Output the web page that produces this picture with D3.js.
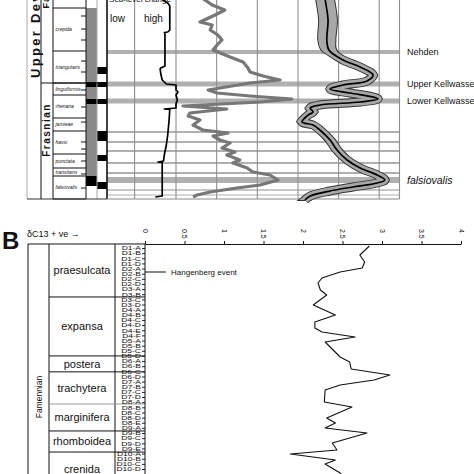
<!DOCTYPE html>
<html><head><meta charset="utf-8">
<script src="https://cdn.jsdelivr.net/npm/d3@7"></script>
<style>body{margin:0;background:#fff}svg{display:block}text{font-family:"Liberation Sans",Arial,sans-serif;fill:#111}</style>
</head><body><svg id="c" width="474" height="474"></svg>
<script>
// ---------------- Panel A data (depth in arbitrary section units) ----------------
const zonesA = ["crepida","triangularis","linguiformis","rhenana","jamieae","hassi","punctata","transitans","falsiovalis"];
const zoneTopsA = [8, 51, 83, 95, 118, 131, 154, 168, 176];
const zoneBaseA = 199;
const frasnianTop = 83;
const zoneTicksA = [16,29,40,61,72,90,107,122,142,149,161,174,188];
const grayColTop = 8, grayColBase = 176;
const blockTop  = [67, 82, 99, 131, 155, 176, 182];
const blockBase = [74, 87, 104, 141, 161, 186, 189];
const blockCol  = ["r","both","both","r","r","l","r"];
const bandTop  = [50, 81.5, 98.5, 131, 141, 150, 162, 172, 177, 189.3, 194.5];
const bandBase = [54, 86.5, 103.5, 133, 143, 152, 164, 174, 183, 190.7, 195.5];
const eventNames = ["Nehden","Upper Kellwasser","Lower Kellwasser"];
const eventDepths = [52, 84, 101];
const falsiovalisDepth = 180;

// relative sea level (0 = low, 10 = high)
const seaDepth = [-5,0,3,6,30,32,32.5,33,66,68,69,74,80,84,85,90,92,95,100,104,108,109,109.5,120,135,145,155,161,162,162.5,196,197];
const seaLevel = [8.1,8.1,8.8,9.1,9.1,8.8,8.3,8.4,8.4,7.8,7.7,7.8,8.0,8.6,10.0,10.0,10.3,10.0,10.2,10.0,10.0,8.3,9.1,9.0,8.8,8.6,8.3,8.2,7.4,8.0,8.0,7.0];

// gray curve (track 2)
const grayDepth = [-3,0,5,10,15,22,25,30,35,40,45,50,57,62,68,72,76,80,83,90,93,96,99,102,106,109,113,116,120,125,130,133,136,140,143,148,152,155,160,163,168,172,175,180,185,188,192,195,197];
const grayValue = [0.6,0.71,0.89,1.20,0.96,0.59,0.89,0.84,1.03,1.13,1.01,0.91,1.33,1.65,1.77,1.82,2.14,2.56,1.82,0.79,1.01,1.82,2.85,2.07,0.17,1.25,0.34,0.30,0.59,0.42,0.66,1.28,0.91,1.08,1.33,1.13,1.45,1.25,1.57,1.40,1.75,1.89,2.31,2.51,2.07,1.50,0.84,0.52,0.42];

// smoothed curve with envelope (track 3)
const envDepth = [-3,0,20,40,50,60,67,75,81,85,89,93,97,99,102,105,108,112,115,122,125,130,140,150,160,168,175,180,183,187,191,196,200];
const envValue = [0.66,0.67,0.74,0.71,0.76,1.11,1.53,1.85,1.70,1.11,0.79,1.28,1.85,1.97,1.53,0.54,0.30,0.37,0.25,0.10,0.37,0.54,0.79,0.96,1.21,1.53,1.95,2.14,1.95,1.35,0.79,0.30,0.17];
const envErr   = [0.22,0.22,0.22,0.21,0.18,0.12,0.1,0.1,0.1,0.1,0.1,0.1,0.1,0.1,0.1,0.1,0.12,0.12,0.12,0.12,0.12,0.12,0.12,0.12,0.12,0.12,0.1,0.1,0.1,0.1,0.1,0.12,0.14];

// ---------------- Panel B data ----------------
const samples = ["D1-A","D1-B","D1-C","D1-D","D2-A","D2-B","D2-C","D2-D","D3-A","D3-B","D3-C","D3-D","D4-A","D4-B","D4-C","D4-D","D4-E","D4-F","D5-A","D5-B","D5-C","D5-D","D6-A","D6-B","D6-C","D6-D","D7-A","D7-B","D7-C","D7-D","D8-A","D8-B","D8-C","D8-D","D8-E","D9-A","D9-B","D9-C","D9-D","D9-E","D10-A","D10-B","D10-C","D10-D"];
const zonesB = ["praesulcata","expansa","postera","trachytera","marginifera","rhomboidea","crenida"];
const zoneTopsB = [-0.78, 9.53, 21.0, 24.1, 30.35, 35.6, 39.7];
const zoneBaseB = 46.3;
const stageLabelPosB = 29;
const xTicksB = [0,0.5,1,1.5,2,2.5,3,3.5,4];
const hangenbergPos = 4.67;
const d13cPos   = [-0.39,1.36,2.72,3.89,4.67,5.84,6.81,8.17,9.14,11.09,13.04,14.40,15.56,16.34,17.32,18.29,21.21,22.18,23.54,24.71,25.68,26.65,27.63,29.96,30.93,33.07,34.05,35.02,35.99,37.94,39.30,40.08,41.25,42.02,43.77,45.1];
const d13cValue = [2.84,2.72,2.78,2.75,2.47,2.24,2.19,2.22,2.30,2.13,2.41,2.15,2.15,2.24,2.66,2.28,2.47,2.59,2.61,3.10,2.90,2.47,2.28,2.27,2.62,2.30,2.41,2.28,2.81,2.37,2.43,1.84,2.41,2.28,2.47,2.53];

// ================= drawing =================
const svg = d3.select("#c");

// ---- Panel A ----
const yA = d3.scaleLinear().domain([0,200]).range([0,200]);
const xSea = d3.scaleLinear().domain([0,10]).range([107,176]);
const xG = d3.scaleLinear().domain([0,3]).range([176,298]);
const xE = d3.scaleLinear().domain([0,2.5]).range([298,399.5]);
const A = svg.append("g");

// horizontal event bands
A.selectAll("rect.band").data(bandTop).join("rect").attr("class","band")
  .attr("x",xSea(0)).attr("width",xE(2.5)-xSea(0))
  .attr("y",d=>yA(d)).attr("height",(d,i)=>yA(bandBase[i])-yA(d))
  .attr("fill","#b0b0b0");

// vertical grid lines
const gridXs = [xSea(4), xSea(10), xG(1), xG(2), xG(3), xE(1), xE(2), xE(2.5)];
A.selectAll("line.gv").data(gridXs).join("line").attr("class","gv")
  .attr("x1",d=>d).attr("x2",d=>d).attr("y1",yA(-5)).attr("y2",yA(zoneBaseA))
  .attr("stroke","#8f8f8f").attr("stroke-width",1.1);

// gray column
A.append("rect").attr("x",86).attr("width",11).attr("y",yA(grayColTop)).attr("height",yA(grayColBase)-yA(grayColTop)).attr("fill","#8a8a8a");
// black blocks
A.selectAll("rect.blk").data(blockTop).join("rect").attr("class","blk")
  .attr("x",(d,i)=>blockCol[i]==="r"?97:86)
  .attr("width",(d,i)=>blockCol[i]==="both"?21:(blockCol[i]==="r"?10:11))
  .attr("y",d=>yA(d)).attr("height",(d,i)=>yA(blockBase[i])-yA(d)).attr("fill","#000");

// column lines
const vl = (x,c,w)=>A.append("line").attr("x1",x).attr("x2",x).attr("y1",yA(-5)).attr("y2",yA(zoneBaseA)).attr("stroke",c).attr("stroke-width",w);
vl(27,"#aaa",1); vl(41,"#111",1); vl(53,"#111",1); vl(86,"#111",1); vl(97,"#aaa",1); vl(107,"#111",1.6);
// zone boundaries
A.selectAll("line.zb").data(zoneTopsA.concat([zoneBaseA])).join("line").attr("class","zb")
  .attr("x1",53).attr("x2",86).attr("y1",d=>yA(d)).attr("y2",d=>yA(d)).attr("stroke","#111");
A.append("line").attr("x1",41).attr("x2",107).attr("y1",yA(frasnianTop)).attr("y2",yA(frasnianTop)).attr("stroke","#111").attr("stroke-width",1.2);
A.append("line").attr("x1",27).attr("x2",107).attr("y1",yA(zoneBaseA)).attr("y2",yA(zoneBaseA)).attr("stroke","#333");
A.append("line").attr("x1",107).attr("x2",xE(2.5)).attr("y1",yA(zoneBaseA)).attr("y2",yA(zoneBaseA)).attr("stroke","#888");
// zone ticks
A.selectAll("line.zt").data(zoneTicksA).join("line").attr("class","zt")
  .attr("x1",81).attr("x2",86).attr("y1",d=>yA(d)).attr("y2",d=>yA(d)).attr("stroke","#111");
// zone names
A.selectAll("text.zn").data(zonesA).join("text").attr("class","zn")
  .attr("x",55.5).attr("y",(d,i)=>yA(((zoneTopsA[i]+(zoneTopsA[i+1]??zoneBaseA))/2)))
  .attr("dy","0.35em").attr("font-size",5).attr("font-style","italic").text(d=>d);

// stage / era labels
A.append("text").attr("transform",`translate(39.5,${yA(78)}) rotate(-90)`).attr("font-size",13).attr("font-weight","bold").attr("letter-spacing",2.3).text("Upper Devonian");
A.append("text").attr("transform",`translate(49,${yA(8.5)}) rotate(-90)`).attr("font-size",9).attr("font-weight","bold").attr("letter-spacing",1).text("Famennian");
A.append("text").attr("transform",`translate(50,${yA(130)}) rotate(-90)`).attr("text-anchor","middle").attr("font-size",10).attr("font-weight","bold").attr("letter-spacing",1.5).text("Frasnian");

// sea level header (cropped at the top edge like the reference)
A.append("text").attr("x",140).attr("y",1.5).attr("text-anchor","middle").attr("font-size",8).text("Sea-level change");
A.append("text").attr("x",110).attr("y",22).attr("font-size",10).text("low");
A.append("text").attr("x",144).attr("y",22).attr("font-size",10).text("high");

// curves
const seaLine = d3.line().x(d=>xSea(d[1])).y(d=>yA(d[0]));
A.append("path").attr("d",seaLine(d3.zip(seaDepth,seaLevel))).attr("fill","none").attr("stroke","#000").attr("stroke-width",1.7).attr("stroke-linejoin","round");

const grayLine = d3.line().x(d=>xG(d[1])).y(d=>yA(d[0]));
A.append("path").attr("d",grayLine(d3.zip(grayDepth,grayValue))).attr("fill","none").attr("stroke","#777").attr("stroke-width",3.2).attr("stroke-linejoin","round");

const envPts = d3.zip(envDepth,envValue,envErr);
const envLine = d3.line().x(d=>xE(d[1])).y(d=>yA(d[0])).curve(d3.curveCatmullRom);
const envArea = d3.area().x0(d=>xE(d[1]-d[2])).x1(d=>xE(d[1]+d[2])).y(d=>yA(d[0])).curve(d3.curveCatmullRom);
A.append("path").attr("d",envArea(envPts)).attr("fill","#333").attr("stroke","#333").attr("stroke-width",2);
A.append("path").attr("d",envLine(envPts)).attr("fill","none").attr("stroke","#333").attr("stroke-width",9).attr("stroke-linejoin","round");
A.append("path").attr("d",envArea(envPts)).attr("fill","#a8a8a8");
A.append("path").attr("d",envLine(envPts)).attr("fill","none").attr("stroke","#a8a8a8").attr("stroke-width",7.2).attr("stroke-linejoin","round");
A.append("path").attr("d",envLine(envPts)).attr("fill","none").attr("stroke","#000").attr("stroke-width",1.7).attr("stroke-linejoin","round");

// event labels
A.selectAll("text.ev").data(eventNames).join("text").attr("class","ev")
  .attr("x",407).attr("y",(d,i)=>yA(eventDepths[i])).attr("dy","0.35em").attr("font-size",9).text(d=>d);
A.append("text").attr("x",407).attr("y",yA(falsiovalisDepth)).attr("dy","0.35em").attr("font-size",10.5).attr("font-style","italic").text("falsiovalis");

// ---- Panel B ----
const B = svg.append("g");
const yB = d3.scaleLinear().domain([0,43]).range([248,469]);
const xB = d3.scaleLinear().domain([0,4]).range([145,461]);
const topY = yB(zoneTopsB[0]);

B.append("text").attr("x",2).attr("y",249).attr("font-size",24).attr("font-weight","bold").text("B");
B.append("text").attr("x",27).attr("y",237).attr("font-size",9).text("δC13 + ve →");

// box
const bl = (x1,y1,x2,y2,c)=>B.append("line").attr("x1",x1).attr("y1",y1).attr("x2",x2).attr("y2",y2).attr("stroke",c||"#111").attr("stroke-width",1);
bl(28,topY,xB(0),topY);
[28,49,115].forEach(x=>bl(x,topY,x,yB(zoneBaseB)));
B.selectAll("line.zbB").data(zoneTopsB.slice(1)).join("line").attr("class","zbB")
  .attr("x1",49).attr("x2",xB(0)).attr("y1",d=>yB(d)).attr("y2",d=>yB(d))
  .attr("stroke",(d,i)=>i===3?"#999":"#111");
// zone names
B.selectAll("text.znB").data(zonesB).join("text").attr("class","znB")
  .attr("x",82).attr("y",(d,i)=>yB((zoneTopsB[i]+(zoneTopsB[i+1]??zoneBaseB))/2))
  .attr("dy","0.35em").attr("text-anchor","middle").attr("font-size",11).text(d=>d);
B.append("text").attr("transform",`translate(42,${yB(stageLabelPosB)}) rotate(-90)`).attr("text-anchor","middle").attr("font-size",8.5).text("Famennian");

// sample axis (left of plot)
const axL = B.append("g").attr("transform",`translate(${xB(0)},0)`)
  .call(d3.axisLeft(yB).tickValues(d3.range(samples.length)).tickFormat(i=>samples[i]).tickSize(3).tickSizeOuter(0).tickPadding(1));
axL.select(".domain").remove();
axL.selectAll("line").attr("stroke","#222");
axL.selectAll("text").attr("font-size",8.5).attr("font-family",'"Liberation Sans",Arial,sans-serif').attr("transform","scale(1,0.58)").attr("dy","0.36em").attr("fill","#222");
bl(xB(0),topY,xB(0),yB(zoneBaseB),"#111");

// value axis (top)
const axT = B.append("g").attr("transform",`translate(0,${topY})`)
  .call(d3.axisTop(xB).tickValues(xTicksB).tickFormat("").tickSize(3).tickSizeOuter(0));
axT.select(".domain").attr("stroke","#111");
axT.selectAll("line").attr("stroke","#111");
B.selectAll("text.xl").data(xTicksB).join("text").attr("class","xl")
  .attr("transform",d=>`translate(${xB(d)-2.5},${topY-15}) rotate(90)`)
  .attr("font-size",7).text(d=>d);

// Hangenberg event
bl(xB(0),yB(hangenbergPos),166,yB(hangenbergPos),"#111");
B.append("text").attr("x",171).attr("y",yB(hangenbergPos)).attr("dy","0.35em").attr("font-size",8).text("Hangenberg event");

// d13C curve
const cLine = d3.line().x(d=>xB(d[1])).y(d=>yB(d[0]));
B.append("path").attr("d",cLine(d3.zip(d13cPos,d13cValue))).attr("fill","none").attr("stroke","#111").attr("stroke-width",1.1).attr("stroke-linejoin","round");
</script></body></html>
